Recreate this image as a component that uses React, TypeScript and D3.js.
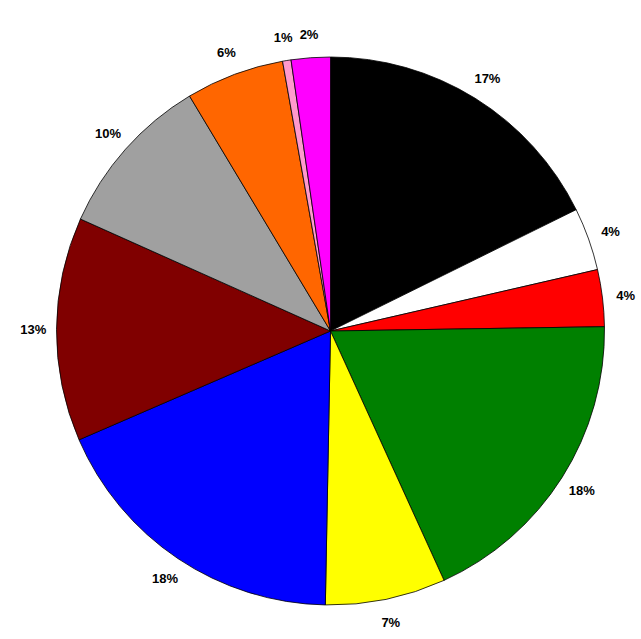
import React from "react";
import * as d3 from "d3";

const categories = ["Black", "White", "Red", "Green", "Yellow", "Blue", "Dark red", "Gray", "Orange", "Pink", "Magenta"];
const values = [17.7, 3.7, 3.35, 18.45, 7.1, 18.2, 13.2, 9.7, 5.8, 0.5, 2.3];
const labels = ["17%", "4%", "4%", "18%", "7%", "18%", "13%", "10%", "6%", "1%", "2%"];
const colors = ["#000000", "#ffffff", "#ff0000", "#008000", "#ffff00", "#0000ff", "#800000", "#a0a0a0", "#ff6600", "#ff99cc", "#ff00ff"];

export default function App() {
  const width = 641;
  const height = 639;
  const cx = 330.5;
  const cy = 331;
  const r = 274;
  const data = categories.map((c, i) => ({ c, v: values[i], label: labels[i], color: colors[i] }));
  const pie = d3.pie<any>().value((d) => d.v).sort(null).startAngle(0).endAngle(2 * Math.PI);
  const arcs = pie(data);
  const arc = d3.arc<any>().innerRadius(0).outerRadius(r);
  const labelR = r * 1.085;
  return (
    <svg width={width} height={height} style={{ position: "absolute", left: 0, top: 0, background: "#fff" }}>
      <g transform={`translate(${cx},${cy})`}>
        {arcs.map((a, i) => (
          <path key={i} d={arc(a) as string} fill={a.data.color} stroke="#000" strokeWidth={0.8} strokeLinejoin="round" />
        ))}
        {arcs.map((a, i) => {
          const m = (a.startAngle + a.endAngle) / 2;
          const x = labelR * Math.sin(m);
          const y = -labelR * Math.cos(m);
          return (
            <text key={"t" + i} x={x} y={y} dy="0.36em" textAnchor="middle" fontFamily="Liberation Sans, Arial, sans-serif" fontWeight="bold" fontSize={13} fill="#000">
              {a.data.label}
            </text>
          );
        })}
      </g>
    </svg>
  );
}
